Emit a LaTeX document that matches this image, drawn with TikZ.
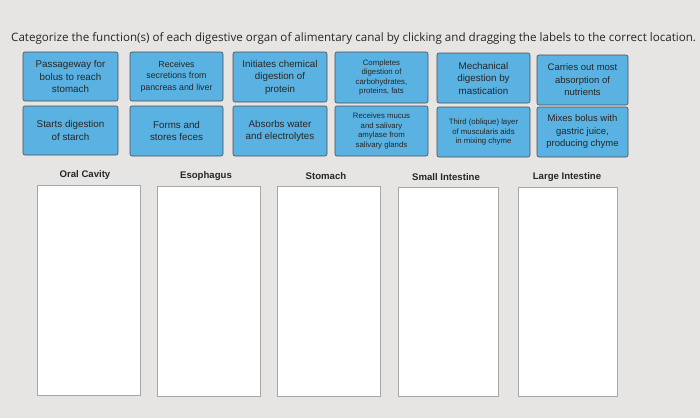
\documentclass[tikz,border=0pt]{standalone}
\usepackage{fontspec}
\setmainfont{Liberation Sans}
\newfontfamily\titlefont{Open Sans}
\begin{document}
\begin{tikzpicture}[x=1pt,y=-1pt,
  card/.style={draw=black!70,fill=cardblue,rounded corners=2pt,line width=0.6pt,align=center,text=black!85,inner sep=1pt},
  drop/.style={draw=black!35,fill=white,line width=0.6pt},
  lbl/.style={font=\bfseries\fontsize{9.6}{11}\selectfont,text=black!85}]
\definecolor{cardblue}{HTML}{5AB2E2}
\definecolor{bg}{HTML}{E6E5E3}
\fill[bg] (0,0) rectangle (700,418);
\useasboundingbox (0,0) rectangle (700,418);
\node[anchor=west,font=\titlefont\fontsize{11.6}{13}\selectfont,text=black!85,inner sep=0pt] (title) at (11,38) {Categorize the function(s) of each digestive organ of alimentary canal by clicking and dragging the labels to the correct location.};
% row 1
\node[card,minimum width=95pt,minimum height=49pt,font=\fontsize{9.8}{12.5}\selectfont] (c1) at (70.5,76.5) {Passageway for\\bolus to reach\\stomach};
\node[card,minimum width=93pt,minimum height=49pt,font=\fontsize{8.8}{11.3}\selectfont] (c2) at (176.5,76.5) {Receives\\secretions from\\pancreas and liver};
\node[card,minimum width=94pt,minimum height=50pt,font=\fontsize{9.8}{12.5}\selectfont] (c3) at (280,77) {Initiates chemical\\digestion of\\protein};
\node[card,minimum width=93pt,minimum height=51pt,font=\fontsize{7.8}{9.5}\selectfont] (c4) at (381.5,77.5) {Completes\\digestion of\\carbohydrates,\\proteins, fats};
\node[card,minimum width=93pt,minimum height=50pt,font=\fontsize{9.8}{12.5}\selectfont] (c5) at (483.5,78) {Mechanical\\digestion by\\mastication};
\node[card,minimum width=91pt,minimum height=50pt,font=\fontsize{9.5}{12.5}\selectfont] (c6) at (582.5,80) {Carries out most\\absorption of\\nutrients};
% row 2
\node[card,minimum width=95pt,minimum height=49pt,font=\fontsize{9.8}{12.5}\selectfont] (d1) at (70.5,130.5) {Starts digestion\\of starch};
\node[card,minimum width=93pt,minimum height=50pt,font=\fontsize{9.8}{12.5}\selectfont] (d2) at (176.5,131) {Forms and\\stores feces};
\node[card,minimum width=94pt,minimum height=50pt,font=\fontsize{9.8}{12.5}\selectfont] (d3) at (280,131) {Absorbs water\\and electrolytes};
\node[card,minimum width=93pt,minimum height=50pt,font=\fontsize{7.8}{9.8}\selectfont] (d4) at (381.5,131) {Receives mucus\\and salivary\\amylase from\\salivary glands};
\node[card,minimum width=93pt,minimum height=50pt,font=\fontsize{7.8}{9.8}\selectfont] (d5) at (483.5,132) {Third (oblique) layer\\of muscularis aids\\in mixing chyme};
\node[card,minimum width=91pt,minimum height=50pt,font=\fontsize{9.5}{12.5}\selectfont] (d6) at (582.5,132) {Mixes bolus with\\gastric juice,\\producing chyme};
% labels
\node[lbl] (l1) at (85,175) {Oral Cavity};
\node[lbl] (l2) at (206,176) {Esophagus};
\node[lbl] (l3) at (326,176) {Stomach};
\node[lbl] (l4) at (446,177) {Small Intestine};
\node[lbl] (l5) at (567,177) {Large Intestine};
% drop zones
\draw[drop] (37,185) rectangle (140,395);
\draw[drop] (157,186) rectangle (260,396);
\draw[drop] (277,186) rectangle (380,396);
\draw[drop] (398,187) rectangle (498,396);
\draw[drop] (518,187) rectangle (617,396);
\end{tikzpicture}
\end{document}
